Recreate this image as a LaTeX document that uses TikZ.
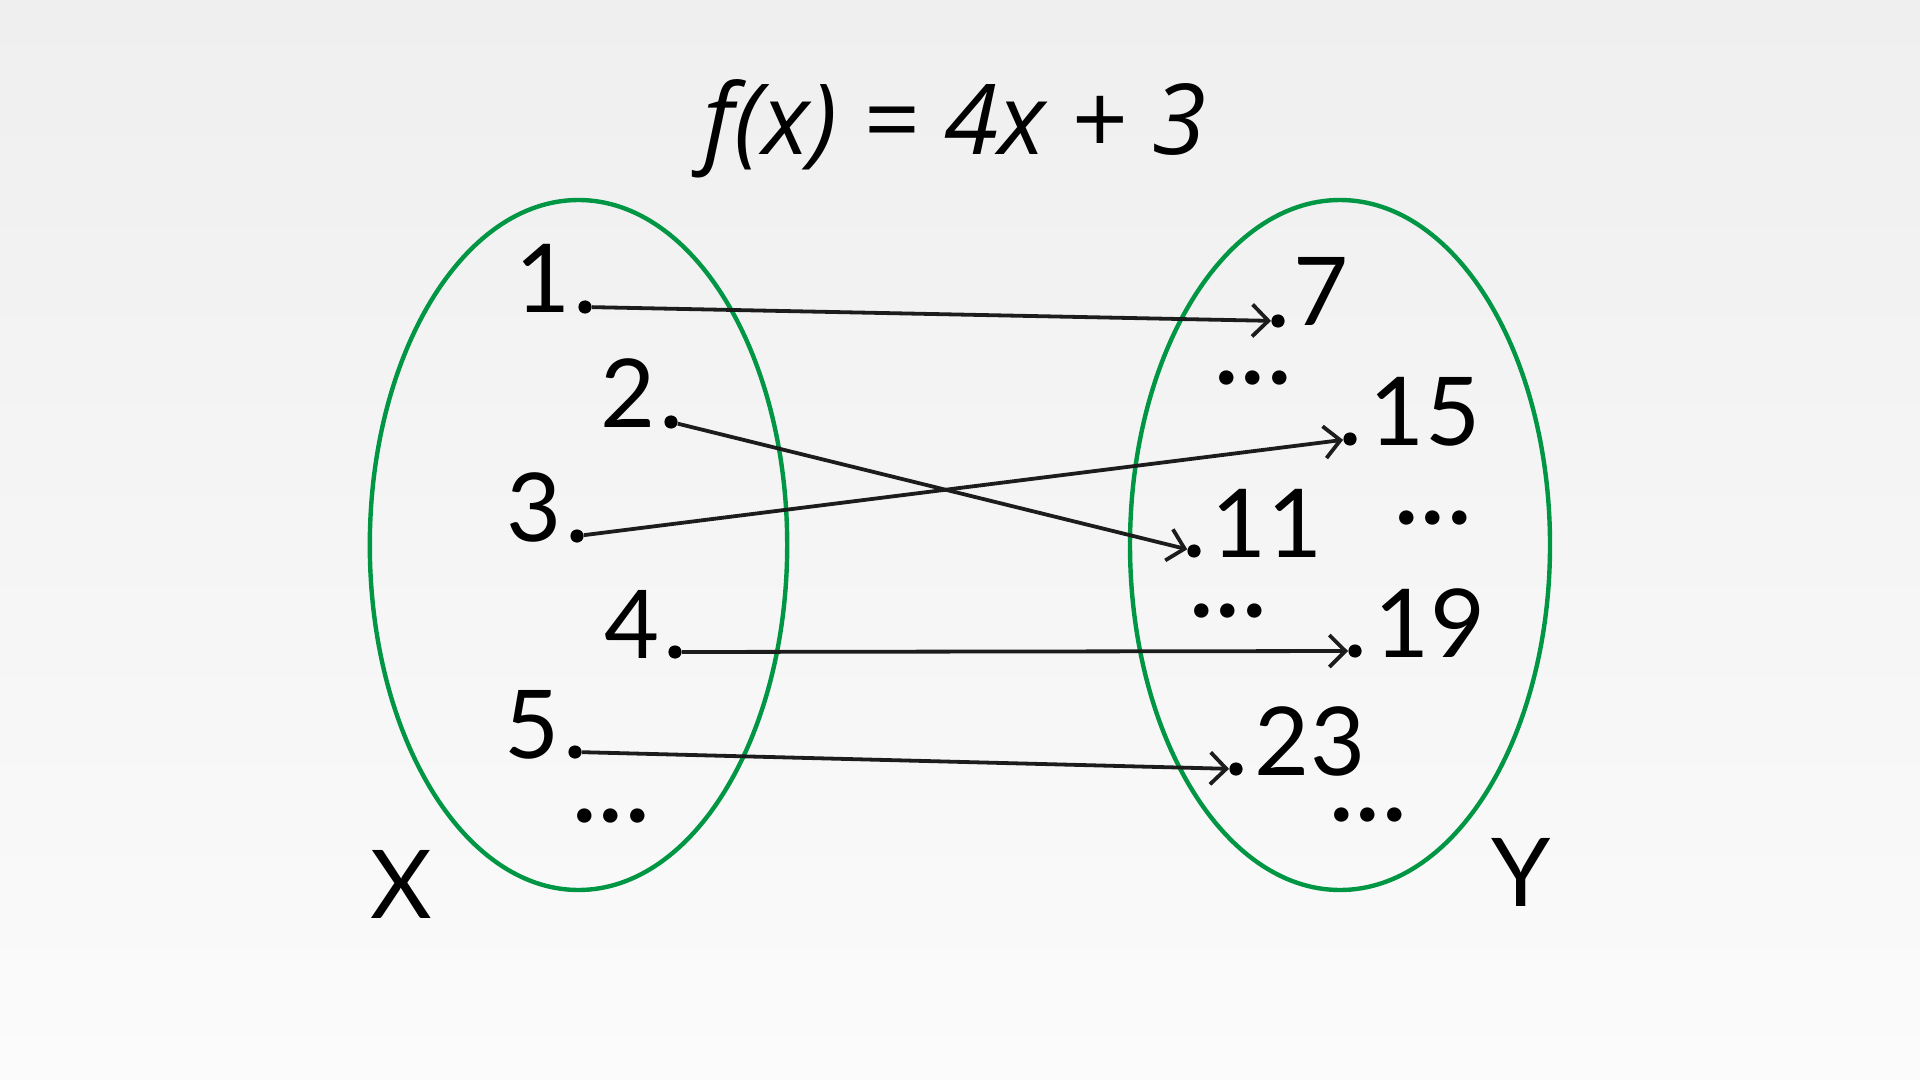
\documentclass[tikz,border=0pt]{standalone}
\usepackage{fontspec}
\setmainfont{Lato}
\newfontfamily\titlefont{Open Sans}
\usetikzlibrary{arrows.meta}
\definecolor{setgreen}{RGB}{0,150,68}
\definecolor{inkc}{RGB}{28,28,28}
\definecolor{bgtop}{RGB}{239,239,240}
\definecolor{bgbot}{RGB}{251,251,251}
\newcommand{\mydots}{\textbf{.\kern2pt.\kern2pt.}}
\begin{document}
\begin{tikzpicture}[x=0.5pt,y=-0.5pt,
  num/.style={font=\fontsize{47.5}{50}\selectfont, inner sep=0pt, anchor=base, text=black, text height=34pt, text depth=0pt},
  ell/.style={num, text height=7pt, text depth=0pt},
  dotnode/.style={circle, fill=black, inner sep=0pt, minimum size=6.6pt},
  setring/.style={draw=setgreen, line width=2.2pt},
  maparrow/.style={draw=inkc, line width=1.9pt, -{Straight Barb[length=8pt,width=16pt,line width=1.9pt]}}
]
\useasboundingbox (0,0) rectangle (1920,1080);
\shade[top color=bgtop, bottom color=bgbot] (0,0) rectangle (1920,1080);

% title
\node[anchor=base, inner sep=0pt, font=\titlefont\itshape\fontsize{49}{52}\selectfont] (title) at (955,155) {f(x) = 4x + 3};

% sets
\draw[setring] (578.5,545) ellipse [x radius=208.7, y radius=345];
\draw[setring] (1340,545) ellipse [x radius=210, y radius=345];

% left elements
\node[num] (n1) at (543,313) {1};
\node[num] (n2) at (628,427) {2};
\node[num] (n3) at (534,541) {3};
\node[num] (n4) at (632,658) {4};
\node[num] (n5) at (532,758) {5};
\node[ell] (le) at (611,822) {\mydots};
\node[num] (X) at (401,918) {X};

\node[dotnode] (a1) at (585,307) {};
\node[dotnode] (a2) at (671,422) {};
\node[dotnode] (a3) at (577,536) {};
\node[dotnode] (a4) at (675,652) {};
\node[dotnode] (a5) at (575,752) {};

% right elements
\node[num] (m7) at (1321,326) {7};
\node[num] (m15) at (1425,445) {15};
\node[num] (m11) at (1267,557) {11};
\node[num] (m19) at (1430,657) {19};
\node[num] (m23) at (1310,775) {23};
\node[ell] (re1) at (1253,384) {\mydots};
\node[ell] (re2) at (1433,524) {\mydots};
\node[ell] (re3) at (1228,617) {\mydots};
\node[ell] (re4) at (1368,821) {\mydots};
\node[num] (Y) at (1521,906) {Y};

\node[dotnode] (b7) at (1278,321) {};
\node[dotnode] (b15) at (1350,439) {};
\node[dotnode] (b11) at (1194,551) {};
\node[dotnode] (b19) at (1355,651) {};
\node[dotnode] (b23) at (1236,769) {};

% mapping
\draw[maparrow] (a1) -- (b7);
\draw[maparrow] (a2) -- (b11);
\draw[maparrow] (a3) -- (b15);
\draw[maparrow] (a4) -- (b19);
\draw[maparrow] (a5) -- (b23);
\end{tikzpicture}
\end{document}
